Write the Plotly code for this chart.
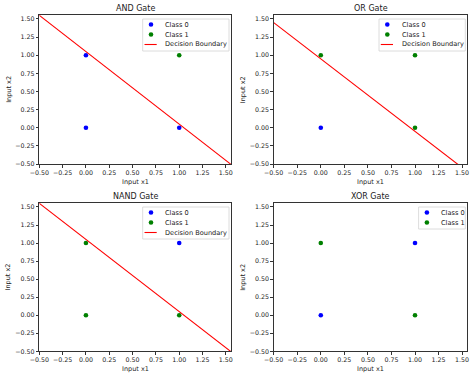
import plotly.graph_objects as go

W, H = 474, 377

# ---- data ----
X1 = [0, 0, 1, 1]
X2 = [0, 1, 0, 1]
GATES = ["AND Gate", "OR Gate", "NAND Gate", "XOR Gate"]
AND_Y = [0, 0, 0, 1]
OR_Y = [0, 1, 1, 1]
NAND_Y = [1, 1, 1, 0]
XOR_Y = [0, 1, 1, 0]
LABELS = [AND_Y, OR_Y, NAND_Y, XOR_Y]
# decision boundary: w1*x1 + w2*x2 + b = 0 (None = no linear boundary)
W1 = [1.0, 1.0, -1.0, None]
W2 = [1.0, 1.0, -1.0, None]
B = [-1.05, -0.95, 1.05, None]
TICKS = [-0.5, -0.25, 0.0, 0.25, 0.5, 0.75, 1.0, 1.25, 1.5]
AX_RANGE = [-0.5, 1.555]
CLASS_NAMES = ["Class 0", "Class 1"]
CLASS_COLORS = ["#0000ff", "#008000"]
LINE_NAME = "Decision Boundary"

# ---- layout (pixel boxes: left, right, top, bottom) ----
BOXES = [(39.3, 231.0, 15.0, 164.0), (273.7, 467.3, 15.0, 164.0),
         (39.3, 231.0, 203.0, 351.3), (273.7, 467.3, 203.0, 351.3)]
FONT = "DejaVu Sans"
TXT = "#222222"
AXC = "#333333"


def px(x):
    return x / W


def py(y):
    return 1 - y / H


fig = go.Figure()
shapes = []
annotations = []

for i, (gate, lab, box) in enumerate(zip(GATES, LABELS, BOXES)):
    l, r, t, b = box
    ax = "" if i == 0 else str(i + 1)
    xa, ya = "x" + ax, "y" + ax
    for c in (0, 1):
        xs = [x for x, k in zip(X1, lab) if k == c]
        ys = [y for y, k in zip(X2, lab) if k == c]
        fig.add_trace(go.Scatter(x=xs, y=ys, mode="markers", xaxis=xa, yaxis=ya,
                                 marker=dict(color=CLASS_COLORS[c], size=4.6),
                                 name=CLASS_NAMES[c], showlegend=False))
    has_line = W1[i] is not None
    if has_line:
        lx = list(AX_RANGE)
        ly = [-(W1[i] * x + B[i]) / W2[i] for x in lx]
        fig.add_trace(go.Scatter(x=lx, y=ly, mode="lines", xaxis=xa, yaxis=ya,
                                 line=dict(color="red", width=1.1),
                                 name=LINE_NAME, showlegend=False))

    axis_common = dict(range=AX_RANGE, tickvals=TICKS, tickformat=".2f", automargin=False,
                       showgrid=False, zeroline=False, showline=True, mirror=True,
                       linecolor=AXC, linewidth=1, ticks="outside", ticklen=2.5,
                       tickwidth=0.8, tickcolor=AXC,
                       tickfont=dict(family=FONT, size=6.3, color=TXT))
    fig.update_layout(**{
        "xaxis" + ax: dict(domain=[px(l), px(r)], anchor=ya, **axis_common),
        "yaxis" + ax: dict(domain=[py(b), py(t)], anchor=xa, **axis_common),
    })

    # title and axis labels
    annotations.append(dict(text=gate, x=px((l + r) / 2), y=py(t - 7), xref="paper", yref="paper",
                            xanchor="center", yanchor="middle", showarrow=False,
                            font=dict(family=FONT, size=8, color=TXT)))
    annotations.append(dict(text="Input x1", x=px((l + r) / 2), y=py(b + 17.7), xref="paper",
                            yref="paper", xanchor="center", yanchor="middle", showarrow=False,
                            font=dict(family=FONT, size=6.5, color=TXT)))
    annotations.append(dict(text="Input x2", x=px(l - 31), y=py((t + b) / 2), xref="paper",
                            yref="paper", xanchor="center", yanchor="middle", showarrow=False,
                            textangle=-90, font=dict(family=FONT, size=6.5, color=TXT)))

    # legend (matplotlib style, upper right)
    entries = [("marker", CLASS_NAMES[0], CLASS_COLORS[0]),
               ("marker", CLASS_NAMES[1], CLASS_COLORS[1])]
    if has_line:
        entries.append(("line", LINE_NAME, "red"))
    bw = 86.3 if has_line else 46.7
    lr = r - 2
    ll = lr - bw
    lt = t + 4
    lb = lt + 10 * len(entries) + 2
    shapes.append(dict(type="rect", xref="paper", yref="paper", x0=px(ll), x1=px(lr),
                       y0=py(lb), y1=py(lt), line=dict(color="#d3d3d3", width=0.8),
                       fillcolor="rgba(255,255,255,0.8)", layer="above"))
    for k, (kind, name, col) in enumerate(entries):
        cy = lt + 5.5 + 10 * k
        if kind == "marker":
            shapes.append(dict(type="circle", xref="paper", yref="paper",
                               xsizemode="pixel", ysizemode="pixel",
                               xanchor=px(ll + 8.3), yanchor=py(cy),
                               x0=-2.3, x1=2.3, y0=-2.3, y1=2.3,
                               fillcolor=col, line=dict(width=0), layer="above"))
        else:
            shapes.append(dict(type="line", xref="paper", yref="paper",
                               x0=px(ll + 1.8), x1=px(ll + 14), y0=py(cy), y1=py(cy),
                               line=dict(color=col, width=1.1), layer="above"))
        annotations.append(dict(text=name, x=px(ll + 20.5), y=py(cy), xref="paper",
                                yref="paper", xanchor="left", yanchor="middle",
                                showarrow=False, font=dict(family=FONT, size=6.6, color=TXT)))

fig.update_layout(width=W, height=H, margin=dict(l=0, r=0, t=0, b=0, pad=0),
                  paper_bgcolor="white", plot_bgcolor="white", showlegend=False,
                  shapes=shapes, annotations=annotations)

fig.write_html("out.html", config={"displayModeBar": False},
               post_script="document.body.style.margin='0';document.body.style.padding='0';"
                           "document.body.style.overflow='hidden';"
                           "document.documentElement.style.overflow='hidden';")
